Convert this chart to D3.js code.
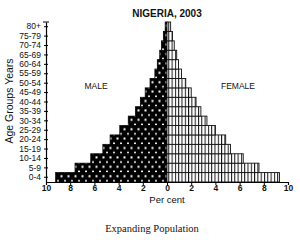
<!DOCTYPE html>
<html lang="en">
<head>
<meta charset="UTF-8">
<title>Nigeria 2003</title>
<script src="https://cdnjs.cloudflare.com/ajax/libs/d3/7.8.5/d3.min.js"></script>
<style>
  body { margin: 0; background: #fff; }
  text { font-family: "Liberation Sans", Arial, sans-serif; fill: #111; }
</style>
</head>
<body>
<script type="text/javascript">

var ages = ["0-4","5-9","10-14","15-19","20-24","25-29","30-34","35-39","40-44",
            "45-49","50-54","55-59","60-64","65-69","70-74","75-79","80+"];
var male = [9.2, 7.6, 6.3, 5.3, 4.7, 3.9, 3.2, 2.6, 2.2, 1.8, 1.4, 1.0, 0.8, 0.6, 0.45, 0.3, 0.15];
var female = [9.3, 7.6, 6.3, 5.25, 4.85, 4.0, 3.3, 2.8, 2.4, 2.0, 1.55, 1.2, 0.95, 0.8, 0.6, 0.45, 0.3];
var xTicks = [-10, -8, -6, -4, -2, 0, 2, 4, 6, 8, 10];

var width = 300, height = 240;

var svg = d3.select("body").append("svg")
    .attr("width", width)
    .attr("height", height);

var x = d3.scaleLinear().domain([-10, 10]).range([46, 288]);
var y = d3.scaleBand().domain(ages).range([182, 22]);

// patterns
var defs = svg.append("defs");
var dots = defs.append("pattern")
    .attr("id", "dots")
    .attr("patternUnits", "userSpaceOnUse")
    .attr("width", 7).attr("height", 9.4);
dots.append("rect").attr("width", 7).attr("height", 9.4).attr("fill", "#000");
dots.append("rect").attr("x", 1).attr("y", 1.5).attr("width", 2).attr("height", 2).attr("fill", "#fff");
dots.append("rect").attr("x", 4.5).attr("y", 6).attr("width", 2).attr("height", 2).attr("fill", "#fff");

var stripes = defs.append("pattern")
    .attr("id", "stripes")
    .attr("patternUnits", "userSpaceOnUse")
    .attr("width", 3.3).attr("height", 10);
stripes.append("rect").attr("width", 3.3).attr("height", 10).attr("fill", "#fff");
stripes.append("rect").attr("x", 0).attr("width", 1).attr("height", 10).attr("fill", "#111");

var rows = ages.map(function(a, i) { return {age: a, m: male[i], f: female[i]}; });

svg.selectAll("rect.male")
    .data(rows)
    .enter().append("rect")
    .attr("class", "male")
    .attr("x", function(d) { return x(-d.m); })
    .attr("y", function(d) { return y(d.age); })
    .attr("width", function(d) { return x(0) - x(-d.m); })
    .attr("height", y.bandwidth())
    .attr("fill", "url(#dots)")
    .attr("stroke", "#000")
    .attr("stroke-width", 0.8);

svg.selectAll("rect.female")
    .data(rows)
    .enter().append("rect")
    .attr("class", "female")
    .attr("x", x(0))
    .attr("y", function(d) { return y(d.age); })
    .attr("width", function(d) { return x(d.f) - x(0); })
    .attr("height", y.bandwidth())
    .attr("fill", "url(#stripes)")
    .attr("stroke", "#111")
    .attr("stroke-width", 0.9);

// x axis
var xAxis = svg.append("g")
    .attr("transform", "translate(0,182)")
    .call(d3.axisBottom(x).tickValues(xTicks).tickSize(3).tickPadding(0)
      .tickFormat(function(d) { return Math.abs(d); }));
xAxis.select(".domain").attr("stroke", "#000").attr("stroke-width", 1.2);
xAxis.selectAll("text").style("font-size", "8.5px").style("font-weight", "bold");

// y axis
var yAxis = svg.append("g")
    .attr("transform", "translate(46,0)")
    .call(d3.axisLeft(y).tickSize(0).tickPadding(5));
yAxis.select(".domain").attr("stroke", "#000").attr("stroke-width", 1.2);
yAxis.selectAll(".tick line").attr("x1", -2).attr("x2", 2).attr("stroke", "#000");
yAxis.selectAll("text").style("font-size", "8.5px");
yAxis.append("line").attr("x1", -3).attr("x2", 3).attr("y1", 22).attr("y2", 22).attr("stroke", "#000");

svg.append("text")
    .attr("x", 167).attr("y", 17)
    .attr("text-anchor", "middle")
    .style("font-size", "10px").style("font-weight", "bold")
    .text("NIGERIA, 2003");

svg.append("text")
    .attr("x", 96).attr("y", 89)
    .attr("text-anchor", "middle")
    .style("font-size", "8.5px")
    .text("MALE");

svg.append("text")
    .attr("x", 238).attr("y", 89)
    .attr("text-anchor", "middle")
    .style("font-size", "8.5px")
    .text("FEMALE");

svg.append("text")
    .attr("transform", "translate(13,101) rotate(-90)")
    .attr("text-anchor", "middle")
    .style("font-size", "10.5px")
    .text("Age Groups Years");

svg.append("text")
    .attr("x", 167).attr("y", 203)
    .attr("text-anchor", "middle")
    .style("font-size", "9.5px")
    .text("Per cent");

svg.append("text")
    .attr("x", 152).attr("y", 232)
    .attr("text-anchor", "middle")
    .style("font-family", "'Liberation Serif', 'DejaVu Serif', serif")
    .style("font-size", "10.5px")
    .text("Expanding Population");

</script>
</body>
</html>
